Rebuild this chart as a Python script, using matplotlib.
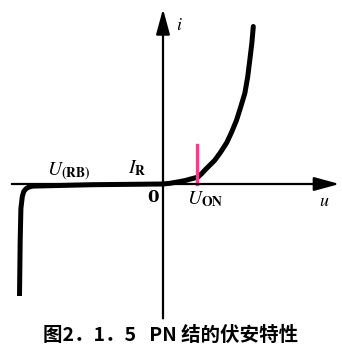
import numpy as np
import matplotlib.pyplot as plt

plt.rcParams['mathtext.fontset'] = 'stix'

# Forward branch (u, i), arbitrary units
u_fwd = [0.0, 0.10, 0.24, 0.32, 0.39, 0.45, 0.50, 0.55, 0.60, 0.67,
         0.74, 0.82, 0.91, 0.98, 1.05, 1.11, 1.17, 1.21, 1.24, 1.27, 1.29]
i_fwd = [0.0, 0.01, 0.035, 0.05, 0.07, 0.085, 0.10, 0.145, 0.20, 0.27,
         0.34, 0.45, 0.59, 0.74, 0.91, 1.10, 1.30, 1.53, 1.77, 2.02, 2.25]

# Reverse branch, down to breakdown
u_rev = [0.0, -1.00, -1.86, -1.92, -1.96, -1.99, -2.01, -2.03, -2.04, -2.05]
i_rev = [0.0, -0.01, -0.03, -0.045, -0.07, -0.11, -0.18, -0.35, -0.80, -1.60]

u_on = 0.49
u_on_mark = 0.56

fig = plt.figure(figsize=(3.42, 3.55), dpi=100)
ax = fig.add_axes([0, 0, 1, 1])
ax.set_xlim(-163 / 70, 179 / 70)
ax.set_ylim(-171 / 70, 184 / 70)
ax.axis('off')

# Axes with arrows
arrow = dict(arrowstyle='-|>,head_length=1.1,head_width=0.3', color='black',
             lw=1.6, mutation_scale=14, shrinkA=0, shrinkB=0)
ax.annotate('', xy=(2.52, 0), xytext=(-2.16, 0), arrowprops=arrow)
ax.annotate('', xy=(0, 2.50), xytext=(0, -1.92), arrowprops=arrow)

# Characteristic curve
ax.plot(u_fwd, i_fwd, color='black', lw=3.6, solid_capstyle='round',
        solid_joinstyle='round')
ax.plot(u_rev, i_rev, color='black', lw=3.6, solid_capstyle='butt',
        solid_joinstyle='round')

# Turn-on voltage marker
ax.plot([u_on, u_on], [0, u_on_mark], color='#ee3f8f', lw=2.4)

serif = dict(family='serif', color='black')
ax.text(0.24, 2.27, r'$i$', fontsize=13, ha='center', va='center', **serif)
ax.text(2.3, -0.24, r'$u$', fontsize=13, ha='center', va='center', **serif)
ax.text(-0.15, -0.20, '0', fontsize=12, ha='center', va='center',
        family='DejaVu Serif', weight='bold')
ax.text(-0.37, 0.23, r'$I_{\mathbf{R}}$', fontsize=14, ha='center', va='center')
ax.text(-1.35, 0.18, r'$U_{\mathbf{(RB)}}$', fontsize=14, ha='center', va='center')
ax.text(0.6, -0.21, r'$U_{\mathbf{ON}}$', fontsize=14, ha='center', va='center')

fig.text(171 / 342, 0.054, '图2．1．5   PN 结的伏安特性', ha='center', va='center',
         fontsize=14, weight='bold', family=['Noto Sans CJK SC', 'DejaVu Sans'])

fig.savefig('out.png', dpi=100)
